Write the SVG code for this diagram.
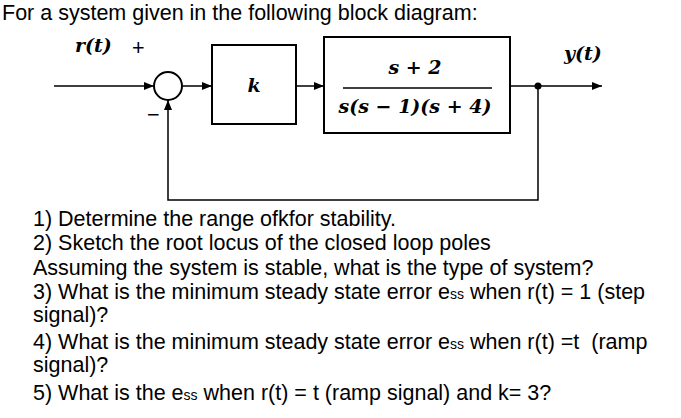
<svg xmlns="http://www.w3.org/2000/svg" width="681" height="418" viewBox="0 0 681 418">
<defs><marker id="a" markerWidth="10" markerHeight="8" refX="10" refY="4" orient="auto" markerUnits="userSpaceOnUse"><path d="M0,0L10,4L0,8z" fill="#000"/></marker></defs>
<style>
.t{font-family:"Liberation Sans",Arial,sans-serif;font-size:21.5px;fill:#000;white-space:pre}
.m{font-family:"DejaVu Serif","Liberation Serif",serif;font-size:19px;font-style:italic;font-weight:bold;fill:#000}
.b{fill:#fff;stroke:#000;stroke-width:2}
.c{fill:none;stroke:#000;stroke-width:1.5}
.s{font-size:14px}
</style>
<rect width="681" height="418" fill="#fff"/>
<text class="t" x="2" y="20" font-size="22">For a system given in the following block diagram:</text>
<g id="sum"><circle class="b" cx="168" cy="86" r="14" stroke-width="1.5"/></g>
<g id="k"><rect class="b" x="212" y="45" width="84" height="79"/><text class="m" x="254" y="92" text-anchor="middle">k</text></g>
<g id="g"><rect class="b" x="324" y="37" width="186" height="96"/>
<text class="m" x="415" y="74" text-anchor="middle" font-weight="normal">s + 2</text>
<line x1="343" y1="88" x2="492" y2="88" stroke="#000" stroke-width="1.5"/>
<text class="m" x="415" y="113" text-anchor="middle" font-weight="normal">s(s − 1)(s + 4)</text></g>
<g id="connectors">
<line class="c" x1="54" y1="86" x2="154" y2="86" marker-end="url(#a)"/>
<line class="c" x1="182" y1="86" x2="212" y2="86" marker-end="url(#a)"/>
<line class="c" x1="296" y1="86" x2="324" y2="86" marker-end="url(#a)"/>
<line class="c" x1="510" y1="86" x2="602" y2="86" marker-end="url(#a)"/>
<circle cx="538" cy="86" r="3.5"/>
<path class="c" d="M538,86V200H168V100" marker-end="url(#a)"/>
</g>
<text class="m" x="75" y="52">r(t)</text>
<text class="t" x="132" y="55" font-size="15">+</text>
<text class="t" x="147" y="122" font-size="15">−</text>
<text class="m" x="564" y="60">y(t)</text>
<g>
<text class="t" x="33" y="226">1) Determine the range ofkfor stability.</text>
<text class="t" x="33" y="250">2) Sketch the root locus of the closed loop poles</text>
<text class="t" x="33" y="275">Assuming the system is stable, what is the type of system?</text>
<text class="t" x="33" y="299">3) What is the minimum steady state error <tspan>e</tspan><tspan class="s">ss</tspan> when r(t) = 1 (step</text>
<text class="t" x="33" y="322">signal)?</text>
<text class="t" x="33" y="349">4) What is the minimum steady state error <tspan>e</tspan><tspan class="s">ss</tspan> when r(t) =t  (ramp</text>
<text class="t" x="33" y="372">signal)?</text>
<text class="t" x="33" y="400">5) What is the <tspan>e</tspan><tspan class="s">ss</tspan> when r(t) = t (ramp signal) and k= 3?</text>
</g>
</svg>
